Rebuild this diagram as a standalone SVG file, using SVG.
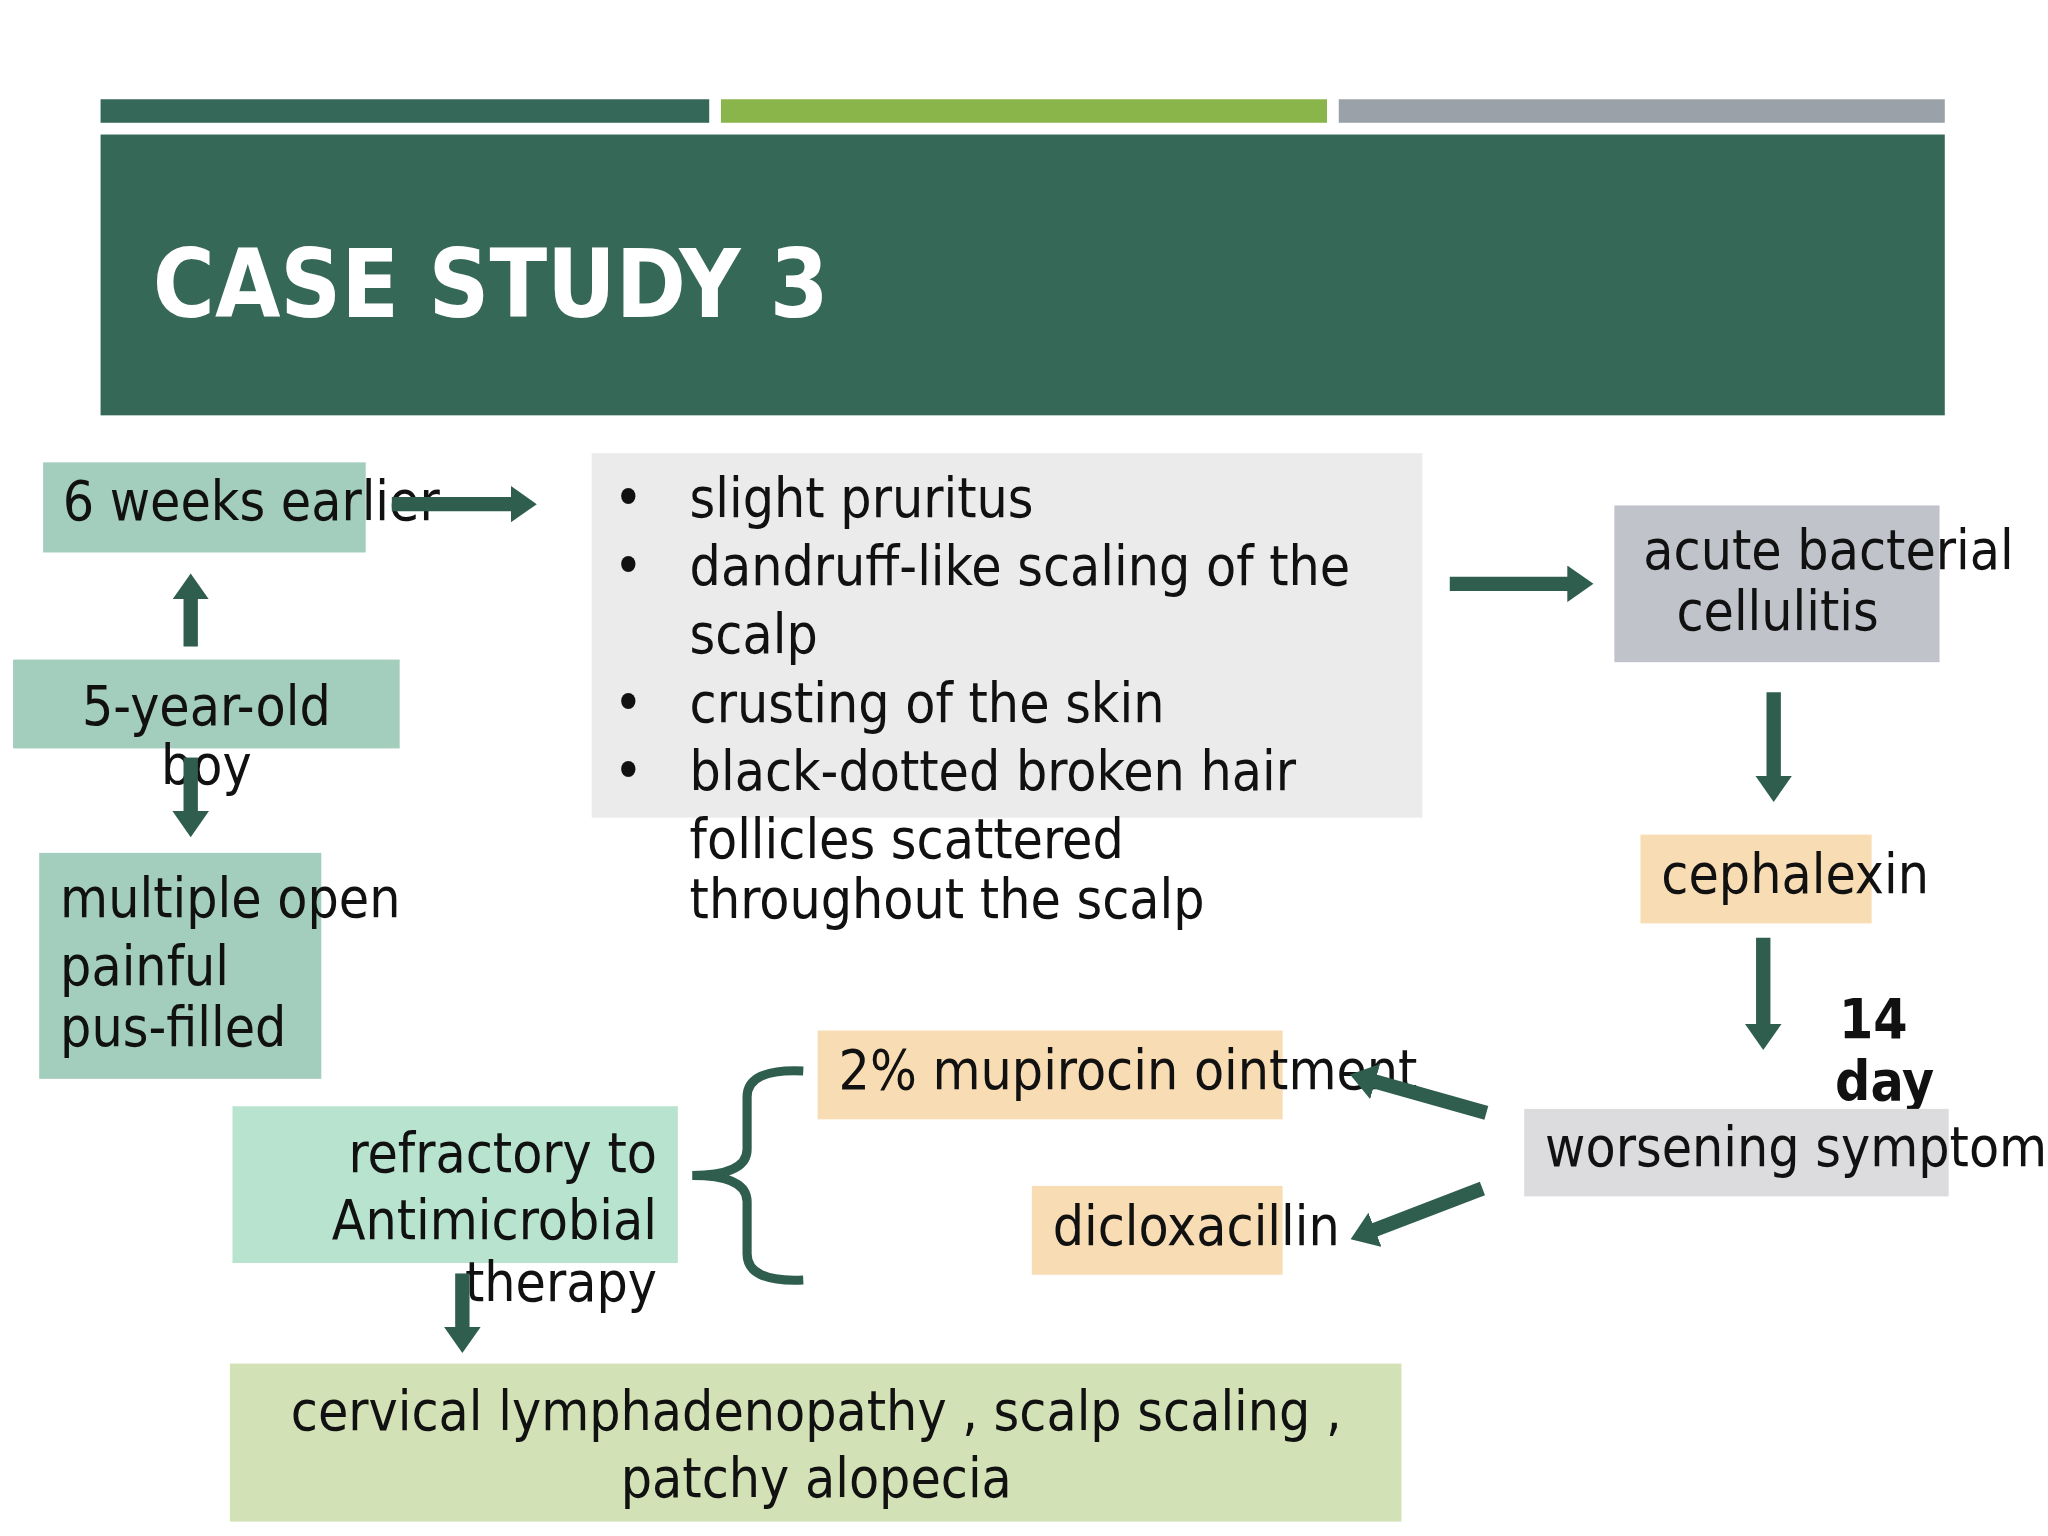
<svg xmlns="http://www.w3.org/2000/svg" width="2048" height="1536" viewBox="0 0 2048 1536">
<style>
.t{font-family:"DejaVu Sans Condensed","DejaVu Sans",sans-serif;font-size:42px;fill:#111}
.b{font-weight:bold}
.c{stroke:#2f5e4e;stroke-width:11;fill:none;marker-end:url(#ah)}
</style>
<defs>
<marker id="ah" markerUnits="userSpaceOnUse" markerWidth="24" markerHeight="28" refX="4" refY="14" orient="auto">
<path d="M0,0 L20,14 L0,28 Z" fill="#2f5e4e"/>
</marker>
</defs>
<rect width="2048" height="1536" fill="#fff"/>
<g transform="scale(1.3061)">
<g id="header">
<rect x="77" y="76" width="466" height="18" fill="#36685a"/>
<rect x="552" y="76" width="464" height="18" fill="#8ab54a"/>
<rect x="1025" y="76" width="464" height="18" fill="#9aa1a8"/>
<rect x="77" y="103" width="1412" height="215" fill="#366857"/>
<text x="117" y="243" class="t b" style="font-size:72px;fill:#fff">CASE STUDY 3</text>
</g>
<g id="n-6weeks"><rect x="33" y="354" width="247" height="69" fill="#a3cdbd"/><text x="48" y="398" class="t">6 weeks earlier</text></g>
<g id="n-boy"><rect x="10" y="505" width="296" height="68" fill="#a3cdbd"/><text x="158" y="555" class="t" text-anchor="middle">5-year-old</text><text x="158" y="600" class="t" text-anchor="middle">boy</text></g>
<g id="n-multiple"><rect x="30" y="653" width="216" height="173" fill="#a3cdbd"/><text x="46" y="702" class="t">multiple open</text><text x="46" y="754" class="t">painful</text><text x="46" y="801" class="t">pus-filled</text></g>
<g id="n-symptoms"><rect x="453" y="347" width="636" height="279" fill="#ebebeb"/>
<text x="470" y="396" class="t">•</text><text x="528" y="396" class="t">slight pruritus</text>
<text x="470" y="448" class="t">•</text><text x="528" y="448" class="t">dandruff-like scaling of the</text>
<text x="528" y="500" class="t">scalp</text>
<text x="470" y="553" class="t">•</text><text x="528" y="553" class="t">crusting of the skin</text>
<text x="470" y="605" class="t">•</text><text x="528" y="605" class="t">black-dotted broken hair</text>
<text x="528" y="657" class="t">follicles scattered</text>
<text x="528" y="703" class="t">throughout the scalp</text></g>
<g id="n-cellulitis"><rect x="1236" y="387" width="249" height="120" fill="#c0c3ca"/><text x="1400" y="436" class="t" text-anchor="middle">acute bacterial</text><text x="1361" y="482" class="t" text-anchor="middle">cellulitis</text></g>
<g id="n-cephalexin"><rect x="1256" y="639" width="177" height="68" fill="#f8dcb4"/><text x="1272" y="684" class="t">cephalexin</text></g>
<g id="n-14day"><text x="1408" y="795" class="t b">14</text><text x="1405" y="842" class="t b">day</text></g>
<g id="n-worsening"><rect x="1167" y="849" width="325" height="67" fill="#dcdcdf"/><text x="1183" y="893" class="t">worsening symptom</text></g>
<g id="n-mupirocin"><rect x="626" y="789" width="356" height="68" fill="#f8dcb4"/><text x="642" y="834" class="t">2% mupirocin ointment</text></g>
<g id="n-dicloxacillin"><rect x="790" y="908" width="192" height="68" fill="#f8dcb4"/><text x="806" y="953" class="t">dicloxacillin</text></g>
<g id="n-refractory"><rect x="178" y="847" width="341" height="120" fill="#b8e4cf"/><text x="503" y="897" class="t" text-anchor="end">refractory to</text><text x="503" y="949" class="t" text-anchor="end">Antimicrobial</text><text x="503" y="996" class="t" text-anchor="end">therapy</text></g>
<g id="n-cervical"><rect x="176" y="1044" width="897" height="121" fill="#d3e2b6"/><text x="625" y="1095" class="t" text-anchor="middle">cervical lymphadenopathy , scalp scaling ,</text><text x="625" y="1146" class="t" text-anchor="middle">patchy alopecia</text></g>
<g id="connectors">
<line x1="300" y1="386" x2="395" y2="386" class="c"/>
<line x1="146" y1="495" x2="146" y2="455" class="c"/>
<line x1="146" y1="580" x2="146" y2="625" class="c"/>
<line x1="1110" y1="447" x2="1204" y2="447" class="c"/>
<line x1="1358" y1="530" x2="1358" y2="598" class="c"/>
<line x1="1350" y1="718" x2="1350" y2="788" class="c"/>
<line x1="1138" y1="852" x2="1049" y2="827" class="c"/>
<line x1="1135" y1="910" x2="1049" y2="943" class="c"/>
<line x1="354" y1="975" x2="354" y2="1020" class="c"/>
<path d="M615,820 Q572,818 572,840 L572,880 Q572,900 530,900 Q572,900 572,920 L572,960 Q572,982 615,980" stroke="#2f5e4e" stroke-width="7" fill="none"/>
</g>
</g>
</svg>
